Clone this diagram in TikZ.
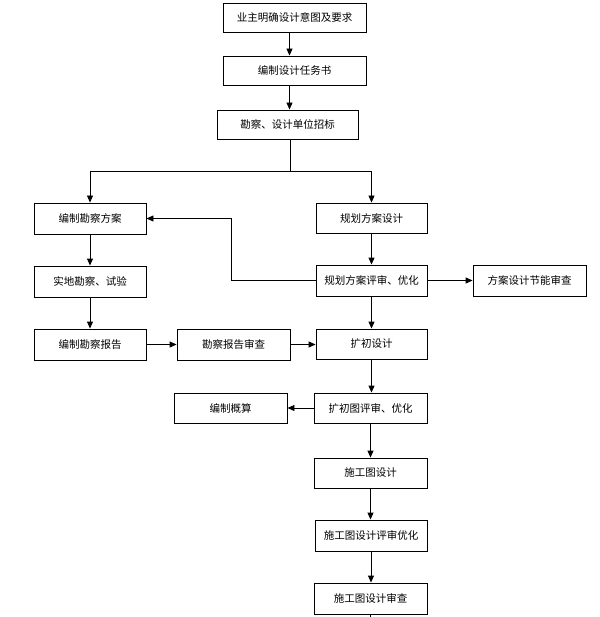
\documentclass[tikz,border=0pt]{standalone}
\usepackage{fontspec}
\newfontfamily\cjk{Noto Sans CJK SC}
\usetikzlibrary{arrows.meta}
\begin{document}
\begin{tikzpicture}[x=1pt,y=-1pt,
  box/.style={draw=black,line width=0.9pt,inner sep=0pt,font=\cjk\fontsize{10.5}{12}\selectfont,minimum height=30pt},
  arr/.style={draw=black,line width=0.9pt,-{Triangle[length=7pt,width=6pt]}},
  ln/.style={draw=black,line width=0.9pt}]
\useasboundingbox (0,0) rectangle (599,617);
\fill[white] (0,0) rectangle (599,617);
% top column
\node[box,minimum width=143pt,minimum height=29pt] (b1) at (294.5,17.5) {业主明确设计意图及要求};
\node[box,minimum width=143pt,minimum height=29pt] (b2) at (294.5,70.5) {编制设计任务书};
\node[box,minimum width=141pt,minimum height=29pt] (b3) at (287.5,124.5) {勘察、设计单位招标};
% left column
\node[box,minimum width=112pt,minimum height=31pt] (L1) at (90,218.5) {编制勘察方案};
\node[box,minimum width=112pt,minimum height=31pt] (L2) at (90,281.5) {实地勘察、试验};
\node[box,minimum width=112pt,minimum height=31pt] (L3) at (90,344.5) {编制勘察报告};
\node[box,minimum width=113pt,minimum height=31pt] (L4) at (233.5,344.5) {勘察报告审查};
% right column
\node[box,minimum width=111pt,minimum height=30pt] (R1) at (371.5,218) {规划方案设计};
\node[box,minimum width=111pt,minimum height=31pt] (R2) at (371.5,280.5) {规划方案评审、优化};
\node[box,minimum width=113pt,minimum height=31pt] (E1) at (529.5,280.5) {方案设计节能审查};
\node[box,minimum width=111pt,minimum height=30pt] (R3) at (371.5,344) {扩初设计};
\node[box,minimum width=113pt,minimum height=30pt] (R4) at (370.5,408) {扩初图评审、优化};
\node[box,minimum width=113pt,minimum height=30pt] (K1) at (230.5,408) {编制概算};
\node[box,minimum width=113pt,minimum height=30pt] (R5) at (370.5,473) {施工图设计};
\node[box,minimum width=112pt,minimum height=31pt] (R6) at (371,535.5) {施工图设计评审优化};
\node[box,minimum width=113pt,minimum height=31pt] (R7) at (370.5,598.5) {施工图设计审查};
% connectors
\coordinate (top) at (289.5,0);
\draw[arr] (b1.south -| top) -- (b2.north -| top);
\draw[arr] (b2.south -| top) -- (b3.north -| top);
\coordinate (split) at (290,171);
\draw[ln] (b3.south -| split) -- (split);
\draw[arr] (split) -| (L1.north);
\draw[arr] (split) -| (R1.north);
\draw[arr] (L1.south) -- (L2.north);
\draw[arr] (L2.south) -- (L3.north);
\draw[arr] (L3.east) -- (L4.west);
\draw[arr] (L4.east) -- (R3.west |- L4.east);
\draw[arr] (R1.south) -- (R1.south |- R2.north);
\draw[arr] (R2.east) -- (E1.west);
\coordinate (fb) at (231,280.5);
\draw[arr] (R2.west) -- (fb) |- (L1.east);
\draw[arr] (R2.south) -- (R2.south |- R3.north);
\draw[arr] (R3.south) -- (R3.south |- R4.north);
\draw[arr] (R4.west) -- (K1.east);
\draw[arr] (R4.south) -- (R4.south |- R5.north);
\draw[arr] (R5.south) -- (R5.south |- R6.north);
\draw[arr] (R6.south) -- (R6.south |- R7.north);
\coordinate (tail) at (370.5,617);
\draw[ln] (R7.south) -- (tail);
\end{tikzpicture}
\end{document}
